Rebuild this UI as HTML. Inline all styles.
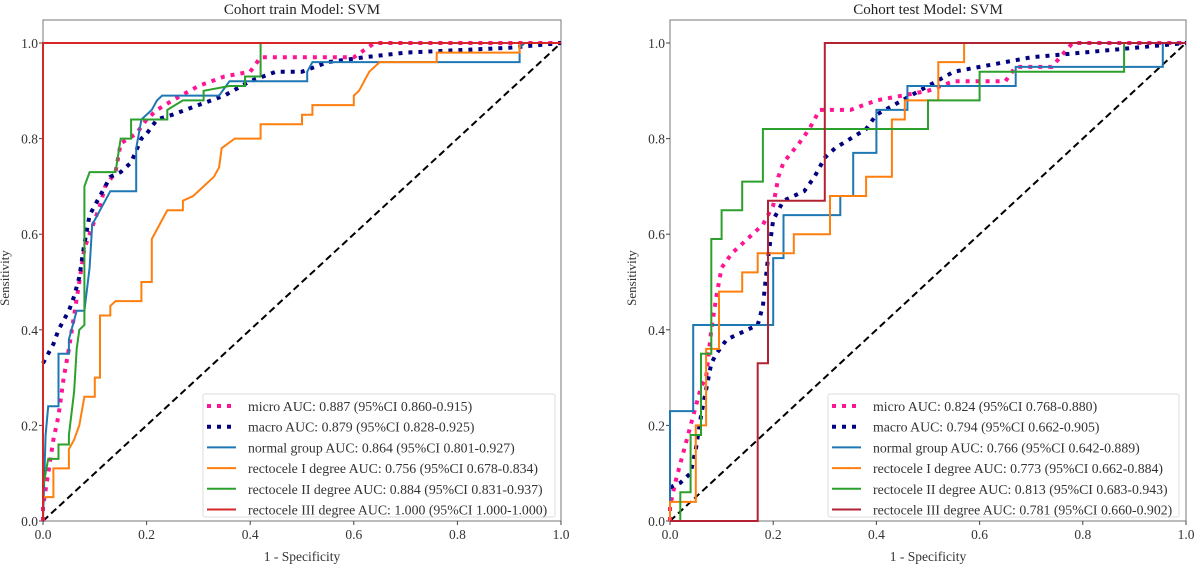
<!DOCTYPE html>
<html><head><meta charset="utf-8"><style>
body{margin:0;background:#fff;width:1200px;height:566px;overflow:hidden}
svg{font-family:"Liberation Serif",serif}
</style></head><body>
<svg id="chart" width="1200" height="566"></svg>
<script>
const ticks=[0,0.2,0.4,0.6,0.8,1.0];
const tickLabels=["0.0","0.2","0.4","0.6","0.8","1.0"];
// Left panel (train)
const trainMicroX=[0,0,0.01,0.02,0.03,0.04,0.05,0.06,0.07,0.08,0.09,0.1,0.11,0.12,0.14,0.15,0.18,0.2,0.22,0.25,0.3,0.35,0.4,0.42,0.5,0.6,0.64,1];
const trainMicroY=[0,0.03,0.1,0.17,0.22,0.3,0.36,0.43,0.5,0.57,0.6,0.63,0.66,0.7,0.73,0.79,0.81,0.84,0.86,0.88,0.91,0.93,0.94,0.97,0.97,0.97,1,1];
const trainMacroX=[0,0.01,0.02,0.03,0.04,0.05,0.06,0.07,0.08,0.09,0.1,0.12,0.13,0.15,0.17,0.19,0.2,0.22,0.25,0.3,0.35,0.4,0.45,0.5,0.55,0.62,0.7,0.8,0.9,1];
const trainMacroY=[0.33,0.35,0.37,0.4,0.42,0.44,0.47,0.51,0.58,0.64,0.66,0.7,0.72,0.73,0.75,0.8,0.81,0.84,0.85,0.87,0.89,0.92,0.94,0.94,0.96,0.97,0.98,0.985,0.99,1];
const trainNormalX=[0,0.005,0.01,0.03,0.03,0.05,0.05,0.06,0.065,0.08,0.09,0.095,0.11,0.12,0.13,0.18,0.18,0.19,0.21,0.22,0.23,0.34,0.36,0.51,0.51,0.52,0.92,0.92,0.93,1];
const trainNormalY=[0,0.18,0.24,0.24,0.35,0.35,0.38,0.42,0.44,0.44,0.53,0.62,0.65,0.67,0.69,0.69,0.78,0.84,0.86,0.88,0.89,0.89,0.92,0.92,0.94,0.96,0.96,0.99,1,1];
const trainDeg1X=[0,0,0.02,0.02,0.05,0.05,0.06,0.07,0.08,0.1,0.1,0.11,0.11,0.13,0.13,0.14,0.19,0.19,0.21,0.21,0.22,0.23,0.24,0.27,0.27,0.29,0.31,0.33,0.34,0.345,0.37,0.42,0.42,0.5,0.5,0.52,0.52,0.6,0.6,0.61,0.62,0.63,0.65,0.76,0.76,0.92,0.92,1];
const trainDeg1Y=[0,0.05,0.05,0.11,0.11,0.15,0.17,0.2,0.26,0.26,0.3,0.3,0.43,0.43,0.45,0.46,0.46,0.5,0.5,0.59,0.61,0.63,0.65,0.65,0.67,0.68,0.7,0.72,0.74,0.78,0.8,0.8,0.83,0.83,0.85,0.85,0.87,0.87,0.89,0.9,0.92,0.94,0.96,0.96,0.98,0.98,1,1];
const trainDeg2X=[0,0,0.01,0.03,0.03,0.05,0.05,0.06,0.065,0.07,0.08,0.08,0.09,0.14,0.15,0.17,0.17,0.24,0.24,0.27,0.31,0.31,0.36,0.39,0.39,0.42,0.42,0.42,1];
const trainDeg2Y=[0,0.07,0.13,0.13,0.16,0.16,0.18,0.27,0.36,0.4,0.41,0.7,0.73,0.73,0.8,0.8,0.84,0.84,0.86,0.88,0.88,0.9,0.91,0.91,0.93,0.93,0.97,1,1];
const trainDeg3X=[0,0,1];
const trainDeg3Y=[0,1,1];
// Right panel (test)
const testMicroX=[0,0,0.01,0.02,0.03,0.04,0.05,0.06,0.07,0.08,0.09,0.1,0.12,0.15,0.18,0.2,0.21,0.22,0.25,0.27,0.29,0.35,0.4,0.45,0.5,0.55,0.65,0.67,0.74,0.78,1];
const testMicroY=[0,0.03,0.08,0.12,0.16,0.2,0.24,0.28,0.3,0.4,0.47,0.53,0.56,0.59,0.62,0.66,0.72,0.75,0.79,0.82,0.86,0.86,0.88,0.89,0.9,0.92,0.92,0.95,0.95,1,1];
const testMacroX=[0,0.02,0.04,0.05,0.06,0.08,0.09,0.11,0.15,0.17,0.18,0.19,0.2,0.22,0.26,0.28,0.3,0.32,0.35,0.38,0.4,0.45,0.5,0.55,0.6,0.7,0.8,0.9,1];
const testMacroY=[0.07,0.08,0.1,0.15,0.22,0.33,0.35,0.38,0.4,0.41,0.45,0.55,0.63,0.67,0.69,0.72,0.76,0.78,0.8,0.82,0.85,0.88,0.91,0.94,0.95,0.97,0.98,0.99,1];
const testNormalX=[0,0,0.045,0.045,0.2,0.2,0.22,0.22,0.33,0.33,0.355,0.355,0.4,0.4,0.46,0.46,0.67,0.67,0.955,0.955,1];
const testNormalY=[0,0.23,0.23,0.41,0.41,0.55,0.55,0.64,0.64,0.68,0.68,0.77,0.77,0.86,0.86,0.91,0.91,0.95,0.95,1,1];
const testDeg1X=[0,0,0.05,0.05,0.07,0.07,0.095,0.095,0.14,0.14,0.17,0.17,0.24,0.24,0.31,0.31,0.38,0.38,0.43,0.43,0.455,0.455,0.52,0.52,0.57,0.57,1];
const testDeg1Y=[0,0.04,0.04,0.2,0.2,0.36,0.36,0.48,0.48,0.52,0.52,0.56,0.56,0.6,0.6,0.68,0.68,0.72,0.72,0.84,0.84,0.88,0.88,0.96,0.96,1,1];
const testDeg2X=[0,0.02,0.02,0.04,0.04,0.06,0.06,0.08,0.08,0.1,0.1,0.14,0.14,0.18,0.18,0.5,0.5,0.6,0.6,0.88,0.88,1];
const testDeg2Y=[0,0,0.06,0.06,0.18,0.18,0.35,0.35,0.59,0.59,0.65,0.65,0.71,0.71,0.82,0.82,0.88,0.88,0.94,0.94,1,1];
const testDeg3X=[0,0.17,0.17,0.19,0.19,0.3,0.3,1];
const testDeg3Y=[0,0,0.33,0.33,0.67,0.67,1,1];

const trainLegend=["micro AUC: 0.887 (95%CI 0.860-0.915)","macro AUC: 0.879 (95%CI 0.828-0.925)","normal group AUC: 0.864 (95%CI 0.801-0.927)","rectocele I degree AUC: 0.756 (95%CI 0.678-0.834)","rectocele II degree AUC: 0.884 (95%CI 0.831-0.937)","rectocele III degree AUC: 1.000 (95%CI 1.000-1.000)"];
const testLegend=["micro AUC: 0.824 (95%CI 0.768-0.880)","macro AUC: 0.794 (95%CI 0.662-0.905)","normal group AUC: 0.766 (95%CI 0.642-0.889)","rectocele I degree AUC: 0.773 (95%CI 0.662-0.884)","rectocele II degree AUC: 0.813 (95%CI 0.683-0.943)","rectocele III degree AUC: 0.781 (95%CI 0.660-0.902)"];

const NS="http://www.w3.org/2000/svg";
const svg=document.getElementById('chart');
function mk(tag,attrs,parent){const e=document.createElementNS(NS,tag);for(const k in attrs)e.setAttribute(k,attrs[k]);(parent||svg).appendChild(e);return e;}

function panel(cfg){
  const g=mk('g',{});
  
  
  const x0=cfg.x0,x1=cfg.x1,yTop=43,yBot=521;
  const sx=v=>x0+v*(x1-x0), sy=v=>yBot-v*(yBot-yTop);
  const t=mk('text',{x:(x0+x1)/2,y:14,'text-anchor':'middle','font-size':15,fill:'#222'},g);t.textContent=cfg.title;
  
  const frame=mk('rect',{x:x0,y:20,width:x1-x0,height:yBot-20,fill:'none',stroke:'#777','stroke-width':1},g);
  
  ticks.forEach((v,i)=>{
    mk('line',{x1:sx(v),x2:sx(v),y1:yBot,y2:yBot+4,stroke:'#444'},g);
    const tx=mk('text',{x:sx(v),y:yBot+18,'text-anchor':'middle','font-size':13.5,fill:'#333'},g);tx.textContent=tickLabels[i];
    
    mk('line',{x1:x0-4,x2:x0,y1:sy(v),y2:sy(v),stroke:'#444'},g);
    const ty=mk('text',{x:x0-5,y:sy(v)+5,'text-anchor':'end','font-size':13.5,fill:'#333'},g);ty.textContent=tickLabels[i];
    
  });
  const xl=mk('text',{x:(x0+x1)/2,y:561,'text-anchor':'middle','font-size':13.5,fill:'#333'},g);xl.textContent='1 - Specificity';
  
  const ycx=x0-34,ycy=(yTop+yBot)/2-4;
  const yl=mk('text',{x:ycx,y:ycy,'text-anchor':'middle','font-size':13,fill:'#333',transform:`rotate(-90 ${ycx} ${ycy})`},g);yl.textContent='Sensitivity';
  
  const diag=mk('line',{x1:sx(0),y1:sy(0),x2:sx(1),y2:sy(1),stroke:'#000','stroke-width':2,'stroke-dasharray':'7 4'},g);
  
  cfg.series.forEach(s=>{
    const d=s.x.map((v,i)=>(i?'L':'M')+sx(v).toFixed(1)+','+sy(s.y[i]).toFixed(1)).join('');
    const p=mk('path',{d:d,fill:'none',stroke:s.c,'stroke-width':s.dot?4:2},g);
    if(s.dot)p.setAttribute('stroke-dasharray','4 6');
    
  });
  const lg=mk('g',{},g);
  
  mk('rect',{x:cfg.lx,y:394,width:cfg.lw,height:123,fill:'#fff','fill-opacity':0.85,stroke:'#ddd',rx:2},lg);
  cfg.legend.forEach((txt,i)=>{
    const s=cfg.series[i],yy=406+i*20.7;
    const ln=mk('line',{x1:cfg.lx+4,x2:cfg.lx+33,y1:yy,y2:yy,stroke:s.c,'stroke-width':s.dot?4:2},lg);
    if(s.dot)ln.setAttribute('stroke-dasharray','4 6');
    const tt=mk('text',{x:cfg.lx+45,y:yy+5,'font-size':13.8,fill:'#333'},lg);tt.textContent=txt;
    
  });
}
panel({name:'train-panel',title:'Cohort train Model: SVM',x0:43,x1:561,lx:203,lw:352,legend:trainLegend,series:[
 {n:'micro',x:trainMicroX,y:trainMicroY,c:'#ff1493',dot:1},
 {n:'macro',x:trainMacroX,y:trainMacroY,c:'#000080',dot:1},
 {n:'normal',x:trainNormalX,y:trainNormalY,c:'#1f77b4'},
 {n:'degree-1',x:trainDeg1X,y:trainDeg1Y,c:'#ff7f0e'},
 {n:'degree-2',x:trainDeg2X,y:trainDeg2Y,c:'#2ca02c'},
 {n:'degree-3',x:trainDeg3X,y:trainDeg3Y,c:'#d62728'}]});
panel({name:'test-panel',title:'Cohort test Model: SVM',x0:670,x1:1186,lx:828,lw:351,legend:testLegend,series:[
 {n:'micro',x:testMicroX,y:testMicroY,c:'#ff1493',dot:1},
 {n:'macro',x:testMacroX,y:testMacroY,c:'#000080',dot:1},
 {n:'normal',x:testNormalX,y:testNormalY,c:'#1f77b4'},
 {n:'degree-1',x:testDeg1X,y:testDeg1Y,c:'#ff7f0e'},
 {n:'degree-2',x:testDeg2X,y:testDeg2Y,c:'#2ca02c'},
 {n:'degree-3',x:testDeg3X,y:testDeg3Y,c:'#b22232'}]});
</script>
</body></html>
